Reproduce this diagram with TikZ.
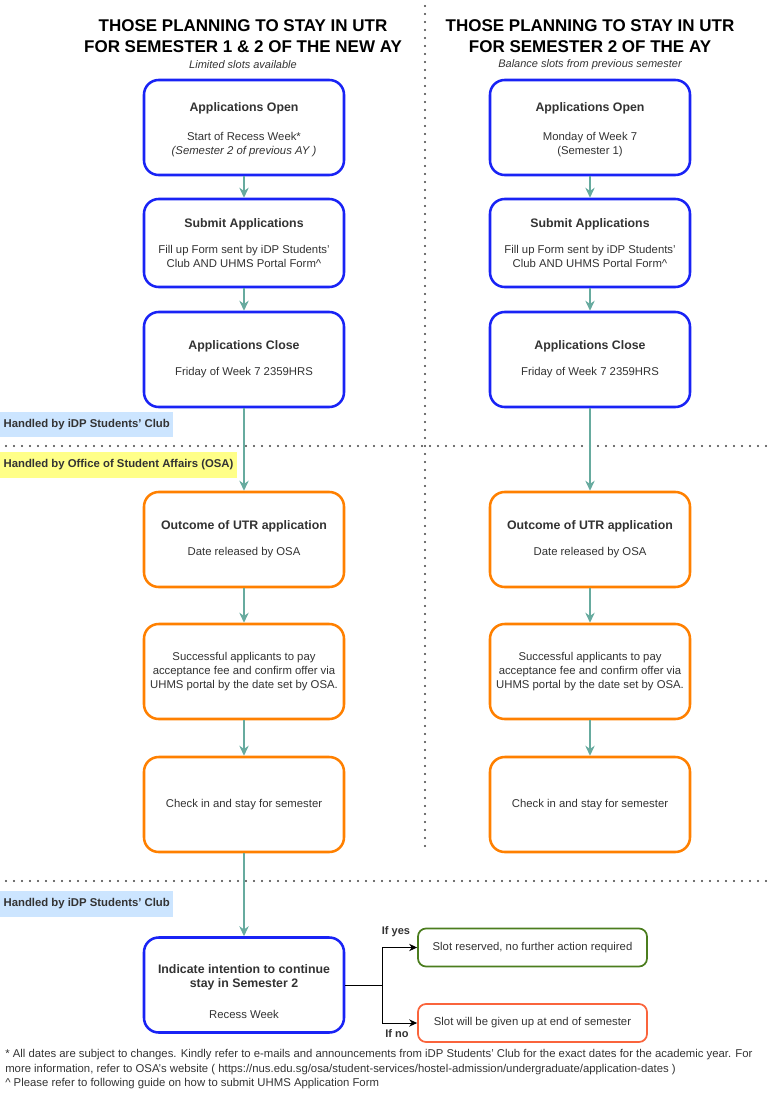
\documentclass[tikz,border=0pt]{standalone}
\usepackage{fontspec}
\setmainfont{Liberation Sans}
\usepackage{tikz}
\usetikzlibrary{arrows.meta,positioning}
\usepackage{xcolor}
\definecolor{flowblue}{RGB}{25,35,245}
\definecolor{floworange}{RGB}{255,128,0}
\definecolor{flowgreen}{RGB}{75,125,30}
\definecolor{flowred}{RGB}{250,100,60}
\definecolor{flowteal}{RGB}{103,171,159}
\definecolor{textgray}{RGB}{51,51,51}
\definecolor{tagblue}{RGB}{204,229,255}
\definecolor{tagyellow}{RGB}{255,255,136}
\newcommand\bodyfont{\fontsize{8.5}{10.5}\selectfont}
\newcommand\headfont{\fontsize{9.25}{11}\selectfont\bfseries}

\begin{document}
\begin{tikzpicture}[
    x=0.75pt,y=-0.75pt,
    stage/.style={draw=#1,line width=1.9pt,rounded corners=11pt,fill=white,minimum width=150pt,minimum height=71.25pt,align=center,text=textgray,font=\bodyfont},
    result/.style={draw=#1,line width=1.3pt,rounded corners=6pt,fill=white,minimum width=171.75pt,minimum height=28.5pt,align=center,text=textgray,font=\bodyfont},
    tag/.style={fill=#1,anchor=west,minimum height=19pt,inner xsep=2.5pt,text=textgray,font=\fontsize{8.5}{10}\selectfont\bfseries},
    title/.style={align=center,font=\fontsize{12.75}{15.75}\selectfont\bfseries},
    note/.style={text=textgray,font=\fontsize{8.25}{10}\selectfont\itshape},
    flow/.style={draw=flowteal,line width=1.3pt,-{Stealth[length=7.5pt,width=7pt]}},
    branch/.style={draw=black,line width=0.75pt},
    divider/.style={draw=black!75,line width=1.7pt,line cap=round,dash pattern=on 0pt off 6pt},
    >=Stealth
]
\useasboundingbox (0,0) rectangle (768,1099);

% dividers
\draw[divider] (425,6) -- (425,850);
\draw[divider] (6,446) -- (768,446);
\draw[divider] (6,881) -- (768,881);

% column titles
\node[title] (ltitle) at (243,36) {THOSE PLANNING TO STAY IN UTR\\FOR SEMESTER 1 \& 2 OF THE NEW AY};
\node[note] (lsub) at (243,65) {Limited slots available};
\node[title] (rtitle) at (590,36) {THOSE PLANNING TO STAY IN UTR\\FOR SEMESTER 2 OF THE AY};
\node[note] (rsub) at (590,65) {Balance slots from previous semester};

% left column
\node[stage=flowblue] (l1) at (244,127.5) {{\headfont\rule{0pt}{10pt}Applications Open}\\[11pt]Start of Recess Week*\\\textit{(Semester 2 of previous AY )}};
\node[stage=flowblue,minimum height=66pt] (l2) at (244,243) {{\headfont Submit Applications}\\[9pt]Fill up Form sent by iDP Students'\\Club AND UHMS Portal Form\textasciicircum};
\node[stage=flowblue] (l3) at (244,359.5) {{\headfont Applications Close}\\[9pt]Friday of Week 7 2359HRS};
\node[stage=floworange] (l4) at (244,539.5) {{\headfont Outcome of UTR application}\\[9pt]Date released by OSA};
\node[stage=floworange] (l5) at (244,671.5) {Successful applicants to pay\\acceptance fee and confirm offer via\\UHMS portal by the date set by OSA.};
\node[stage=floworange] (l6) at (244,804.5) {Check in and stay for semester};

% right column
\node[stage=flowblue] (r1) at (590,127.5) {{\headfont\rule{0pt}{10pt}Applications Open}\\[11pt]Monday of Week 7\\(Semester 1)};
\node[stage=flowblue,minimum height=66pt] (r2) at (590,243) {{\headfont Submit Applications}\\[9pt]Fill up Form sent by iDP Students'\\Club AND UHMS Portal Form\textasciicircum};
\node[stage=flowblue] (r3) at (590,359.5) {{\headfont Applications Close}\\[9pt]Friday of Week 7 2359HRS};
\node[stage=floworange] (r4) at (590,539.5) {{\headfont Outcome of UTR application}\\[9pt]Date released by OSA};
\node[stage=floworange] (r5) at (590,671.5) {Successful applicants to pay\\acceptance fee and confirm offer via\\UHMS portal by the date set by OSA.};
\node[stage=floworange] (r6) at (590,804.5) {Check in and stay for semester};

% who handles what
\node[tag=tagblue] (club1) at (0,424.5) {Handled by iDP Students' Club};
\node[tag=tagyellow] (osa) at (0,465) {Handled by Office of Student Affairs (OSA)};
\node[tag=tagblue] (club2) at (0,904) {Handled by iDP Students' Club};

% continuation step
\node[stage=flowblue] (cont) at (244,985) {{\headfont\rule{0pt}{17pt}Indicate intention to continue}\\{\headfont stay in Semester 2}\\[13pt]Recess Week};
\node[result=flowgreen] (yes) at (532.5,947.5) {Slot reserved, no further action required};
\node[result=flowred] (no) at (532.5,1023) {Slot will be given up at end of semester};
\node[font=\fontsize{8.25}{10}\selectfont\bfseries,text=textgray] (yeslbl) at (396,932) {If yes};
\node[font=\fontsize{8.25}{10}\selectfont\bfseries,text=textgray] (nolbl) at (397,1034) {If no};

% flow arrows
\draw[flow] (l1) -- (l2);
\draw[flow] (l2) -- (l3);
\draw[flow] (l3) -- (l4);
\draw[flow] (l4) -- (l5);
\draw[flow] (l5) -- (l6);
\draw[flow] (l6) -- (cont);
\draw[flow] (r1) -- (r2);
\draw[flow] (r2) -- (r3);
\draw[flow] (r3) -- (r4);
\draw[flow] (r4) -- (r5);
\draw[flow] (r5) -- (r6);

\draw[branch] (cont.east) -- ++(37,0) coordinate (fork);
\draw[branch,-{Stealth[length=6pt,width=5.5pt]}] (fork) |- (yes.west);
\draw[branch,-{Stealth[length=6pt,width=5.5pt]}] (fork) |- (no.west);

% footnotes
\node[anchor=north west,align=left,inner sep=0pt,text=textgray,font=\fontsize{8.5}{10.9}\selectfont] (foot) at (5,1049) {* All dates are subject to changes. Kindly refer to e-mails and announcements from iDP Students' Club for the exact dates for the academic year. For\\more information, refer to OSA's website ( https://nus.edu.sg/osa/student-services/hostel-admission/undergraduate/application-dates )\\\textasciicircum{} Please refer to following guide on how to submit UHMS Application Form};
\end{tikzpicture}
\end{document}
